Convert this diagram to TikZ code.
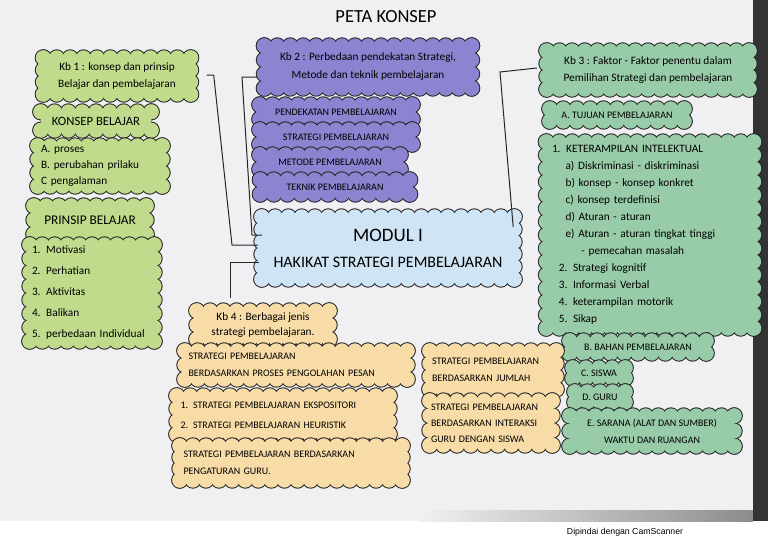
\documentclass[tikz,border=0pt]{standalone}
\usepackage{fontspec}
\setmainfont{Carlito}
\newfontfamily\scanfont{Liberation Sans}
\usetikzlibrary{calc, positioning}

\definecolor{paper}{HTML}{F0F0F3}
\definecolor{kbgreen}{HTML}{C0DB8C}
\definecolor{kbpurple}{HTML}{8C84D0}
\definecolor{kbblue}{HTML}{CFE4F4}
\definecolor{kbteal}{HTML}{98CBA8}
\definecolor{kborange}{HTML}{F8DCA8}

\pgfdeclarelayer{bg}
\pgfsetlayers{bg,main}

\tikzset{
    teks/.style={inner sep=3pt, font=\fontsize{11.3}{17}\selectfont},
    kapital/.style={teks, font=\fontsize{10}{15}\selectfont},
    link/.style={draw=black!85, line width=1pt},
}

% scalloped cloud behind a node: a ring of circles round its border
\def\awr{7.5}
\newcommand{\awanpass}[1]{%
    \foreach \i in {0,...,\awnx}{%
        \path[#1] ({(\awlx+\i*\awsx)*1pt},{\awby*1pt}) circle[radius=\awr pt];
        \path[#1] ({(\awlx+\i*\awsx)*1pt},{\awty*1pt}) circle[radius=\awr pt];
    }%
    \foreach \j in {0,...,\awny}{%
        \path[#1] ({\awlx*1pt},{(\awby+\j*\awsy)*1pt}) circle[radius=\awr pt];
        \path[#1] ({\awrx*1pt},{(\awby+\j*\awsy)*1pt}) circle[radius=\awr pt];
    }%
}
\newcommand{\awanbox}[2]{%
    \path (#1.south west); \pgfgetlastxy{\awx}{\awy}%
    \path (#1.north east); \pgfgetlastxy{\bwx}{\bwy}%
    \pgfmathsetmacro{\awlx}{\awx+4}%
    \pgfmathsetmacro{\awrx}{\bwx-4}%
    \pgfmathsetmacro{\awby}{\awy+4}%
    \pgfmathsetmacro{\awty}{\bwy-4}%
    \pgfmathtruncatemacro{\awnx}{max(1,round((\awrx-\awlx)/13))}%
    \pgfmathtruncatemacro{\awny}{max(1,round((\awty-\awby)/13))}%
    \pgfmathsetmacro{\awsx}{(\awrx-\awlx)/\awnx}%
    \pgfmathsetmacro{\awsy}{(\awty-\awby)/\awny}%
    \awanpass{draw=black!85, line width=2pt}%
    \awanpass{fill=#2}%
    \fill[#2] ({\awlx*1pt},{\awby*1pt}) rectangle ({\awrx*1pt},{\awty*1pt});
}

\begin{document}
\begin{tikzpicture}[x=1pt, y=-1pt]
    \useasboundingbox (0,0) rectangle (768,543);
    % paper
    \begin{pgfonlayer}{bg}
    \fill[paper] (0,0) rectangle (753,521);
    \shade[left color=paper, right color=black!45] (420,510) rectangle (753,521);
    \fill[black!80] (753,0) rectangle (768,521);
    \end{pgfonlayer}
    \node[font=\scanfont\fontsize{8.7}{10}\selectfont] (scan) at (625,532) {Dipindai dengan CamScanner};

    % Title
    \node[font=\fontsize{18.5}{20}\selectfont] (judul) at (386,17) {PETA KONSEP};

    % Kb 1
    \node[teks, minimum width=155, minimum height=44, align=center] (kbone) at (117,76)
        {Kb 1 : konsep dan prinsip\\Belajar dan pembelajaran};
    \node[teks, minimum width=118, minimum height=26, font=\fontsize{12.7}{14}\selectfont] (konsep) at (96,121) {KONSEP BELAJAR};
    \node[teks, minimum width=132, minimum height=48, text width=118, align=left,
        font=\fontsize{11.3}{16}\selectfont] (konsepisi) at (100,166)
        {A. proses\\B. perubahan prilaku\\C pengalaman};
    \node[teks, minimum width=120, minimum height=36, font=\fontsize{13.3}{15}\selectfont] (prinsip) at (90,220) {PRINSIP BELAJAR};
    \node[teks, minimum width=132, minimum height=104, text width=120, align=left,
        font=\fontsize{11.3}{21}\selectfont] (prinsipisi) at (92,293)
        {1. Motivasi\\2. Perhatian\\3. Aktivitas\\4. Balikan\\5. perbedaan Individual};

    % Kb 2
    \node[teks, minimum width=215, minimum height=50, align=center, font=\fontsize{11.3}{18}\selectfont] (kbtwo) at (368,67)
        {Kb 2 : Perbedaan pendekatan Strategi,\\Metode dan teknik pembelajaran};
    \node[kapital, minimum width=160, minimum height=22] (pendekatan) at (336,112) {PENDEKATAN PEMBELAJARAN};
    \node[kapital, minimum width=160, minimum height=22] (strategi) at (336,137) {STRATEGI PEMBELAJARAN};
    \node[kapital, minimum width=148, minimum height=22] (metode) at (330,162) {METODE PEMBELAJARAN};
    \node[kapital, minimum width=157, minimum height=22] (teknik) at (335,187) {TEKNIK PEMBELAJARAN};

    % Modul
    \node[teks, minimum width=260, minimum height=70, align=center,
        font=\fontsize{16}{26}\selectfont] (modul) at (388,248)
        {{\fontsize{19}{20}\selectfont MODUL I}\\HAKIKAT STRATEGI PEMBELAJARAN};

    % Kb 3
    \node[teks, minimum width=210, minimum height=46, align=center] (kbthree) at (648,70)
        {Kb 3 : Faktor - Faktor penentu dalam\\Pemilihan Strategi dan pembelajaran};
    \node[kapital, minimum width=142, minimum height=20] (tujuan) at (617,115) {A. TUJUAN PEMBELAJARAN};
    \node[teks, minimum width=215, minimum height=194, text width=196, align=left] (intelektual) at (650,235)
        {1. KETERAMPILAN INTELEKTUAL\\
        \hspace*{1.2em}a) Diskriminasi - diskriminasi\\
        \hspace*{1.2em}b) konsep - konsep konkret\\
        \hspace*{1.2em}c) konsep terdefinisi\\
        \hspace*{1.2em}d) Aturan - aturan\\
        \hspace*{1.2em}e) Aturan - aturan tingkat tinggi\\
        \hspace*{2.6em}- pemecahan masalah\\
        \hspace*{0.6em}2. Strategi kognitif\\
        \hspace*{0.6em}3. Informasi Verbal\\
        \hspace*{0.6em}4. keterampilan motorik\\
        \hspace*{0.6em}5. Sikap};
    \node[kapital, minimum width=144, minimum height=20] (bahan) at (638,347) {B. BAHAN PEMBELAJARAN};
    \node[kapital, minimum width=60, minimum height=18] (siswa) at (599,373) {C. SISWA};
    \node[kapital, minimum width=58, minimum height=18] (guru) at (600,397) {D. GURU};
    \node[kapital, minimum width=172, minimum height=38, align=center, font=\fontsize{10}{17}\selectfont] (sarana) at (652,431)
        {E. SARANA (ALAT DAN SUMBER)\\WAKTU DAN RUANGAN};

    % Kb 4
    \node[teks, minimum width=140, minimum height=36, align=center, font=\fontsize{11.3}{15}\selectfont] (kbfour) at (263,325)
        {Kb 4 : Berbagai jenis\\strategi pembelajaran.};
    \node[kapital, minimum width=230, minimum height=36, text width=215, align=left, font=\fontsize{10}{17}\selectfont] (proses) at (296,365)
        {STRATEGI PEMBELAJARAN\\BERDASARKAN PROSES PENGOLAHAN PESAN};
    \node[kapital, minimum width=220, minimum height=46, text width=205, align=left,
        font=\fontsize{10}{20}\selectfont] (ekspositori) at (283,415)
        {1. STRATEGI PEMBELAJARAN EKSPOSITORI\\2. STRATEGI PEMBELAJARAN HEURISTIK};
    \node[kapital, minimum width=230, minimum height=42, text width=215, align=left, font=\fontsize{10}{17}\selectfont] (pengaturan) at (291,463)
        {STRATEGI PEMBELAJARAN BERDASARKAN\\PENGATURAN GURU.};
    \node[kapital, minimum width=134, minimum height=46, text width=122, align=left, font=\fontsize{10}{17}\selectfont] (jumlah) at (493,370)
        {STRATEGI PEMBELAJARAN\\BERDASARKAN JUMLAH};
    \node[kapital, minimum width=130, minimum height=52, text width=120, align=left, font=\fontsize{10}{16}\selectfont] (interaksi) at (491,423)
        {STRATEGI PEMBELAJARAN\\BERDASARKAN INTERAKSI\\GURU DENGAN SISWA};

    % Clouds behind the texts
    \begin{pgfonlayer}{bg}
    \foreach \n/\c in {kbone/kbgreen, konsep/kbgreen, konsepisi/kbgreen, prinsip/kbgreen, prinsipisi/kbgreen,
        kbtwo/kbpurple, pendekatan/kbpurple, strategi/kbpurple, metode/kbpurple, teknik/kbpurple,
        modul/kbblue,
        kbthree/kbteal, tujuan/kbteal, intelektual/kbteal, bahan/kbteal, siswa/kbteal, guru/kbteal, sarana/kbteal,
        kbfour/kborange, proses/kborange, ekspositori/kborange, pengaturan/kborange, jumlah/kborange, interaksi/kborange}
        \awanbox{\n}{\c};
    \end{pgfonlayer}

    % Connectors to the module
    \coordinate (kbonebend) at (232,245);
    \coordinate (kbtwobend) at (252,235);
    \coordinate (kbfourbend) at (230,262);
    \coordinate (kbthreebend) at (500,72);
    \draw[link] ($(kbone.east)+(12,-1)$) -- ++(7,0) -- (kbonebend) -- (kbonebend -| modul.west);
    \draw[link] ($(kbtwo.west)+(-3,10)$) -- (242,77) -- (kbtwobend) -- ($(kbtwobend -| modul.west)+(4,0)$);
    \draw[link] ($(kbfourbend -| modul.west)+(1,0)$) -- (kbfourbend) -- ($(kbfourbend |- kbfour.north)+(0,-9)$);
    \draw[link] ($(kbthree.west)+(-6,-2)$) -- (kbthreebend) -- ($(modul.north east)+(-5,14)$);
\end{tikzpicture}
\end{document}
